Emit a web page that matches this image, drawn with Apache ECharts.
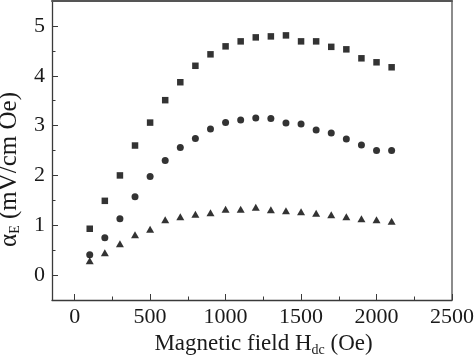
<!DOCTYPE html>
<html><head><meta charset="utf-8">
<script src="https://cdn.jsdelivr.net/npm/echarts@6/dist/echarts.min.js"></script>
<style>html,body{margin:0;padding:0;background:#fff}#c{width:474px;height:358px}</style>
</head><body><div id="c"></div>
<script>
const fieldOe = [100,200,300,400,500,600,700,800,900,1000,1100,1200,1300,1400,1500,1600,1700,1800,1900,2000,2100];
const squareValues = [0.93,1.49,2.00,2.60,3.06,3.51,3.87,4.20,4.43,4.59,4.69,4.77,4.79,4.81,4.69,4.69,4.58,4.53,4.35,4.27,4.17];
const circleValues = [0.41,0.75,1.13,1.57,1.98,2.30,2.56,2.74,2.93,3.06,3.11,3.15,3.14,3.05,3.03,2.91,2.85,2.73,2.61,2.50,2.50];
const triangleValues = [0.29,0.45,0.63,0.81,0.92,1.11,1.17,1.22,1.25,1.32,1.32,1.36,1.31,1.29,1.27,1.24,1.21,1.17,1.13,1.11,1.08];
const xMajorTicks = [0,500,1000,1500,2000,2500];
const xMinorTicks = [250,750,1250,1750,2250];
const yMajorTicks = [0,1,2,3,4,5];
const yMinorTicks = [0.5,1.5,2.5,3.5,4.5];

const FONT = 'Liberation Serif';
const pair = (xs, ys) => xs.map((x, i) => [x, ys[i]]);
const axisLineStyle = {color: '#3a3a3a', width: 1.3};
const plain = v => String(v);

const chart = echarts.init(document.getElementById('c'), null, {renderer: 'canvas'});
chart.setOption({
  animation: false,
  backgroundColor: '#fff',
  grid: {left: 52, right: 22, top: 1, bottom: 58, containLabel: false, outerBoundsMode: 'none'},
  xAxis: [
    {type: 'value', position: 'bottom', min: -150, max: 2500,
     axisLine: {show: true, onZero: false, lineStyle: axisLineStyle},
     axisTick: {show: true, inside: true, length: 6, customValues: xMajorTicks, lineStyle: {color: '#3a3a3a'}},
     axisLabel: {show: true, customValues: xMajorTicks, formatter: plain, margin: 6, fontFamily: FONT, fontSize: 22, color: '#1a1a1a'},
     splitLine: {show: false},
     name: '{t|Magnetic field H}{s|dc}{t| (Oe)}', nameLocation: 'middle', nameGap: 25,
     nameTextStyle: {padding: [0, 0, 0, 23], rich: {
       t: {fontFamily: FONT, fontSize: 23, color: '#1a1a1a'},
       s: {fontFamily: FONT, fontSize: 14, color: '#1a1a1a', padding: [12, 0, 0, 0]}
     }}
    },
    {type: 'value', position: 'bottom', min: -150, max: 2500,
     axisLine: {show: false, onZero: false},
     axisTick: {show: true, inside: true, length: 3.5, customValues: xMinorTicks, lineStyle: {color: '#3a3a3a'}},
     axisLabel: {show: false}, splitLine: {show: false}},
    {type: 'value', position: 'top', min: -150, max: 2500,
     axisLine: {show: true, onZero: false, lineStyle: {color: '#555', width: 2}},
     axisTick: {show: false}, axisLabel: {show: false}, splitLine: {show: false}}
  ],
  yAxis: [
    {type: 'value', position: 'left', min: -0.5, max: 5.5,
     axisLine: {show: true, onZero: false, lineStyle: axisLineStyle},
     axisTick: {show: true, inside: true, length: 6, customValues: yMajorTicks, lineStyle: {color: '#3a3a3a'}},
     axisLabel: {show: true, customValues: yMajorTicks, formatter: plain, margin: 7, fontFamily: FONT, fontSize: 22, color: '#1a1a1a'},
     splitLine: {show: false},
     name: '{t|α}{s|E}{t| (mV/cm Oe)}', nameLocation: 'middle', nameGap: 30, nameRotate: 90,
     nameTextStyle: {padding: [0, 38, 0, 0], rich: {
       t: {fontFamily: FONT, fontSize: 25, color: '#1a1a1a'},
       s: {fontFamily: FONT, fontSize: 14, color: '#1a1a1a', padding: [12, 0, 0, 0]}
     }}
    },
    {type: 'value', position: 'left', min: -0.5, max: 5.5,
     axisLine: {show: false, onZero: false},
     axisTick: {show: true, inside: true, length: 3.5, customValues: yMinorTicks, lineStyle: {color: '#3a3a3a'}},
     axisLabel: {show: false}, splitLine: {show: false}},
    {type: 'value', position: 'right', min: -0.5, max: 5.5,
     axisLine: {show: true, onZero: false, lineStyle: {color: '#666', width: 1.5}},
     axisTick: {show: false}, axisLabel: {show: false}, splitLine: {show: false}}
  ],
  series: [
    {type: 'scatter', name: 'square', symbol: 'rect', symbolSize: 6.5, itemStyle: {color: '#000'},
     data: pair(fieldOe, squareValues)},
    {type: 'scatter', name: 'circle', symbol: 'circle', symbolSize: 7, itemStyle: {color: '#000'},
     data: pair(fieldOe, circleValues)},
    {type: 'scatter', name: 'triangle', symbol: 'triangle', symbolSize: [8, 7], itemStyle: {color: '#000'},
     data: pair(fieldOe, triangleValues)}
  ]
});
</script></body></html>
